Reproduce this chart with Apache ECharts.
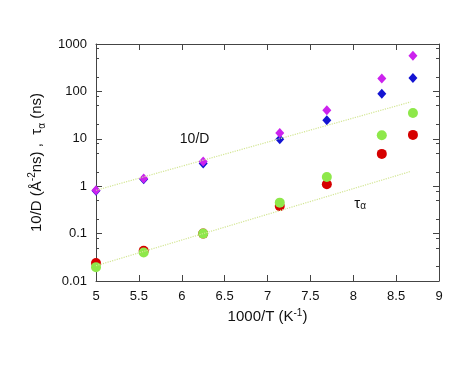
<!DOCTYPE html>
<html>
<head>
<meta charset="utf-8">
<script src="https://cdn.jsdelivr.net/npm/echarts@6/dist/echarts.min.js"></script>
<style>html,body{margin:0;padding:0;background:#fff;}#c{width:474px;height:366px;}</style>
</head>
<body>
<div id="c"></div>
<script>
// 1000/T values (T = 200,180,160,140,130,120,115 K)
var invT = [5.0, 5.556, 6.25, 7.143, 7.692, 8.333, 8.696];
var dMagenta = [0.82, 1.45, 3.3, 13.3, 40, 188, 566];
var dBlue    = [0.80, 1.40, 3.0, 9.8, 24.7, 89, 191];
var tauRed   = [0.024, 0.0436, 0.10, 0.38, 1.1, 4.8, 12.1];
var tauGreen = [0.0196, 0.040, 0.10, 0.45, 1.57, 11.9, 35];
var fitD   = [[5.0, 0.82], [8.67, 60]];
var fitTau = [[5.0, 0.021], [8.67, 2.05]];
var xTicks = [5, 5.5, 6, 6.5, 7, 7.5, 8, 8.5, 9];
var yTicks = [0.01, 0.1, 1, 10, 100, 1000];
var yMinor = [0.02, 0.05, 0.08, 0.2, 0.5, 0.8, 2, 5, 8, 20, 50, 80, 200, 500, 800];

function pairs(xs, ys) { return xs.map(function (x, i) { return [x, ys[i]]; }); }

var font = 'Liberation Sans, Arial, sans-serif';
var axisCol = '#444';
var minorLog = yMinor.map(function (v) { return Math.log10(v); });

var chart = echarts.init(document.getElementById('c'));
chart.setOption({
  animation: false,
  backgroundColor: '#fff',
  grid: { left: 96, right: 35, top: 44, bottom: 85 },
  xAxis: [
    {
      type: 'value', min: 5, max: 9, interval: 0.5,
      name: '1000/T (K{sup|-1})', nameLocation: 'middle', nameGap: 24,
      nameTextStyle: { fontFamily: font, fontSize: 15, color: '#111', lineHeight: 18,
        rich: { sup: { fontSize: 10, fontFamily: font, color: '#111', verticalAlign: 'top', lineHeight: 10 } } },
      axisLine: { onZero: false, lineStyle: { color: axisCol, width: 1 } },
      axisTick: { inside: true, length: 6, lineStyle: { color: axisCol }, customValues: xTicks },
      axisLabel: { fontFamily: font, fontSize: 13, color: '#111', margin: 9, customValues: xTicks },
      splitLine: { show: false }
    },
    {
      type: 'value', min: 5, max: 9, interval: 0.5, position: 'top',
      axisLine: { onZero: false, lineStyle: { color: axisCol, width: 1 } },
      axisTick: { inside: true, length: 6, lineStyle: { color: axisCol } },
      axisLabel: { show: false }, splitLine: { show: false }
    }
  ],
  yAxis: [
    {
      type: 'log', logBase: 10, min: 0.01, max: 1000,
      name: '10/D (Å{sup|-2}ns) ,  τ{sub|α} (ns)', nameLocation: 'middle', nameRotate: 90, nameGap: 48,
      nameTextStyle: { fontFamily: font, fontSize: 15, color: '#111', lineHeight: 20,
        rich: {
          sup: { fontSize: 10, fontFamily: font, color: '#111', verticalAlign: 'top', lineHeight: 10 },
          sub: { fontSize: 10, fontFamily: font, color: '#111', verticalAlign: 'bottom', lineHeight: 10 }
        } },
      axisLine: { onZero: false, lineStyle: { color: axisCol, width: 1 } },
      axisTick: { inside: true, length: 6, lineStyle: { color: axisCol } },
      axisLabel: { fontFamily: font, fontSize: 13, color: '#111', margin: 9,
        formatter: function (v) { return String(v); } },
      splitLine: { show: false }, minorTick: { show: false }
    },
    {
      type: 'log', logBase: 10, min: 0.01, max: 1000, position: 'right',
      axisLine: { show: true, onZero: false, lineStyle: { color: axisCol, width: 1 } },
      axisTick: { inside: true, length: 6, lineStyle: { color: axisCol } },
      axisLabel: { show: false }, splitLine: { show: false }
    },
    {
      type: 'value', min: -2, max: 3, position: 'left',
      axisLine: { show: false, onZero: false },
      axisTick: { show: true, inside: true, length: 3, lineStyle: { color: axisCol }, customValues: minorLog },
      axisLabel: { show: false }, splitLine: { show: false }
    },
    {
      type: 'value', min: -2, max: 3, position: 'right',
      axisLine: { show: false, onZero: false },
      axisTick: { show: true, inside: true, length: 3, lineStyle: { color: axisCol }, customValues: minorLog },
      axisLabel: { show: false }, splitLine: { show: false }
    }
  ],
  series: [
    { type: 'line', data: fitD, symbol: 'none', silent: true,
      lineStyle: { type: 'dotted', color: '#d3e694', width: 1.2 } },
    { type: 'line', data: fitTau, symbol: 'none', silent: true,
      lineStyle: { type: 'dotted', color: '#d3e694', width: 1.2 } },
    { type: 'scatter', data: pairs(invT, dBlue), symbol: 'diamond', symbolSize: [9, 10],
      itemStyle: { color: '#1414d2', opacity: 1 } },
    { type: 'scatter', data: pairs(invT, dMagenta), symbol: 'diamond', symbolSize: [9, 10],
      itemStyle: { color: '#cc22ee', opacity: 1 },
      markPoint: {
        symbol: 'circle', symbolSize: 0,
        label: { show: true, fontFamily: font, fontSize: 14, color: '#111', formatter: '10/D' },
        data: [{ coord: [6.15, 10] }]
      } },
    { type: 'scatter', data: pairs(invT, tauRed), symbol: 'circle', symbolSize: 10,
      itemStyle: { color: '#d60000', opacity: 1 } },
    { type: 'scatter', data: pairs(invT, tauGreen), symbol: 'circle', symbolSize: 10,
      itemStyle: { color: '#8ee84a', opacity: 1 },
      markPoint: {
        symbol: 'circle', symbolSize: 0,
        label: { show: true, fontFamily: font, fontSize: 15, color: '#111', formatter: 'τ{sub|α}',
          rich: { sub: { fontSize: 10, fontFamily: font, color: '#111', verticalAlign: 'bottom', lineHeight: 10 } } },
        data: [{ coord: [8.08, 0.43] }]
      } }
  ]
});
</script>
</body>
</html>
